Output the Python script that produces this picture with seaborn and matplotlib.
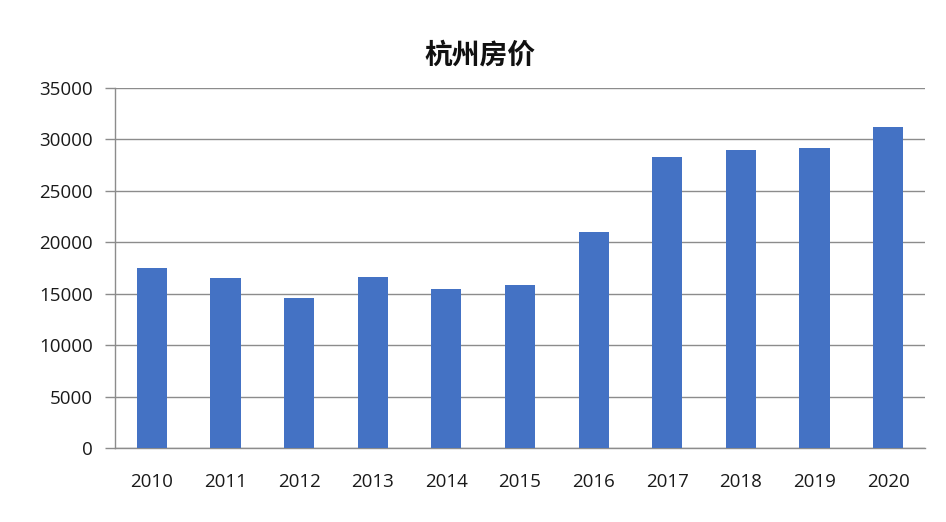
import matplotlib
matplotlib.use("Agg")
import matplotlib.pyplot as plt
import seaborn as sns
import pandas as pd
import numpy as np

years = ["2010", "2011", "2012", "2013", "2014", "2015", "2016", "2017", "2018", "2019", "2020"]
prices = [17500, 16550, 14580, 16650, 15460, 15880, 21000, 28290, 28970, 29170, 31240]
yticks = [0, 5000, 10000, 15000, 20000, 25000, 30000, 35000]
title = "杭州房价"

sns.set_theme(style="white")
plt.rcParams['font.family'] = ['Open Sans', 'Noto Sans CJK SC', 'DejaVu Sans']

df = pd.DataFrame({"year": years, "price": prices})

fig = plt.figure(figsize=(9.46, 5.22), dpi=100)
ax = fig.add_axes([115/946, 1 - 448/522, 810/946, 360/522])

sns.barplot(data=df, x="year", y="price", color="#4472C4", saturation=1,
            width=0.41, ax=ax, zorder=3, linewidth=0, edgecolor="none")

ax.set_ylim(0, 35000)
ax.set_xlim(-0.5, len(years) - 0.5)
ax.set_yticks(yticks)
ax.set_yticklabels([str(v) for v in yticks])
ax.yaxis.grid(True, color="#8c8c8c", linewidth=1.0, zorder=0)
ax.set_axisbelow(True)

for s in ["top", "right"]:
    ax.spines[s].set_visible(False)
for s in ["left", "bottom"]:
    ax.spines[s].set_color("#8c8c8c")
    ax.spines[s].set_linewidth(1.0)

# x ticks at category boundaries
ax.set_xticks(np.arange(-0.5, len(years), 1.0), minor=True)
ax.tick_params(axis="x", which="minor", length=7, color="#8c8c8c", width=1, direction="out")
ax.tick_params(axis="x", which="major", length=0, pad=18, labelsize=13.5, labelcolor="#1a1a1a")
ax.tick_params(axis="y", which="major", length=7, color="#8c8c8c", width=1, direction="out",
               pad=9, labelsize=13.5, labelcolor="#1a1a1a")
ax.tick_params(bottom=True, left=True)

ax.set_xlabel("")
ax.set_ylabel("")

fig.text(480/946, 1 - 56/522, title, ha="center", va="center", fontsize=20,
         fontweight="bold", color="#111111", family=['Noto Sans CJK SC', 'DejaVu Sans'])

fig.savefig("out.png", dpi=100, facecolor="white")
